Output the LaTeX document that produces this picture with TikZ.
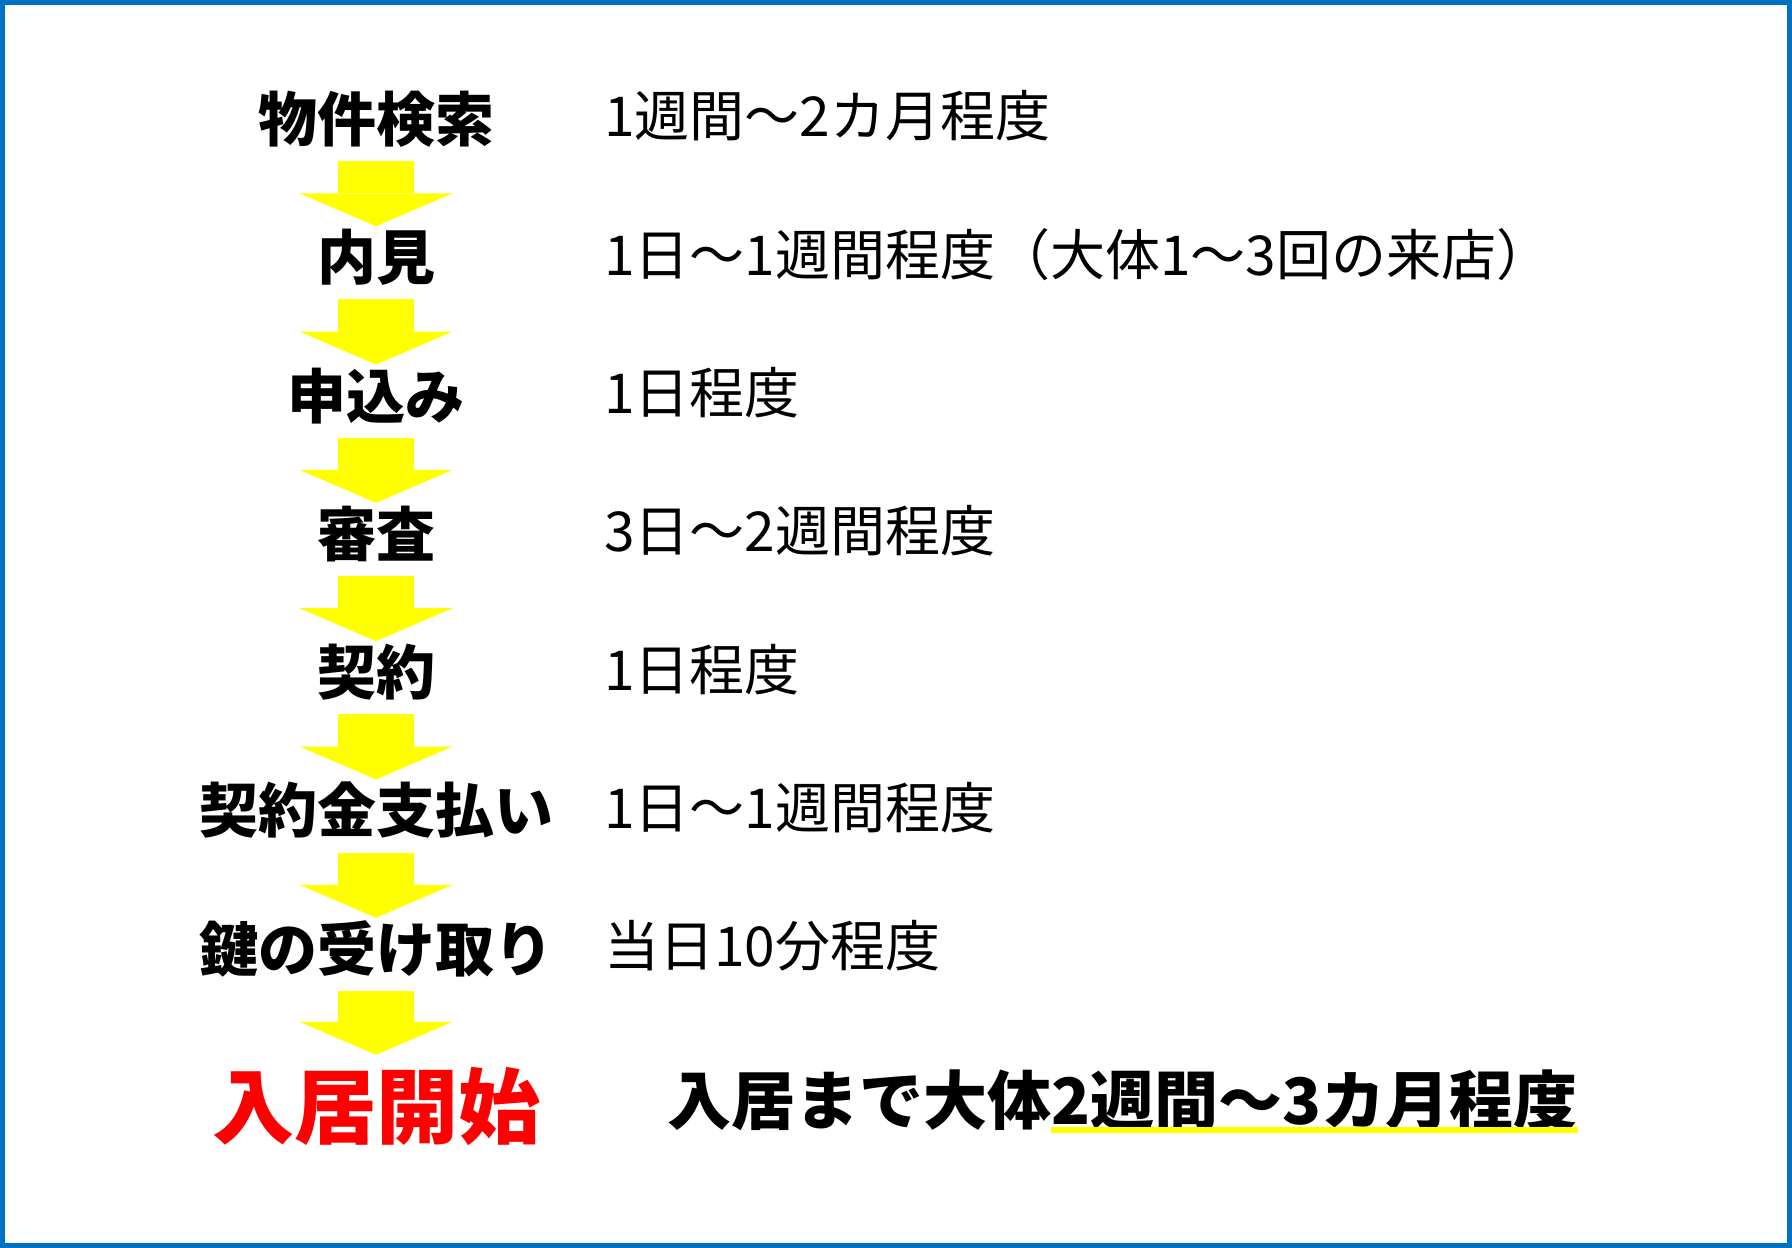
\documentclass[tikz,border=0pt]{standalone}
\usepackage{fontspec}
\setmainfont{Noto Sans CJK JP}
\usetikzlibrary{arrows.meta,positioning}
\definecolor{frameblue}{RGB}{0,112,192}
\definecolor{arrowyellow}{RGB}{255,255,0}
\definecolor{startred}{RGB}{255,0,0}

\begin{document}
\begin{tikzpicture}[x=1pt,y=-1pt,
  stage/.style = {inner sep=0pt, font=\fontsize{59}{70}\selectfont\bfseries},
  dur/.style = {inner sep=0pt, anchor=west, yshift=3pt,
  font=\fontsize{55}{66}\selectfont},
  sum/.style = {inner sep=0pt, font=\fontsize{64}{77}\selectfont\bfseries},
  flow/.style = {draw=arrowyellow, line width=76pt,
  shorten <=42pt, shorten >=31pt,
  -{Triangle[width=153pt,length=33pt,line width=0pt]}},
  node distance=138.3pt]
  \useasboundingbox (0,0) rectangle (1792,1248);
  \draw[frameblue, line width=5pt] (2.5,2.5) rectangle (1789.5,1245.5);

  \node[stage] (s1) at (376,119) {物件検索};
  \node[stage] (s2) [below of=s1] {内見};
  \node[stage] (s3) [below of=s2] {申込み};
  \node[stage] (s4) [below of=s3] {審査};
  \node[stage] (s5) [below of=s4] {契約};
  \node[stage] (s6) [below of=s5] {契約金支払い};
  \node[stage] (s7) [below of=s6] {鍵の受け取り};
  \node[stage, text=startred, font=\fontsize{82}{96}\selectfont\bfseries]
    (s8) [below of=s7, node distance=158pt] {入居開始};

  \draw[flow] (s1.center) -- (s2.center);
  \draw[flow] (s2.center) -- (s3.center);
  \draw[flow] (s3.center) -- (s4.center);
  \draw[flow] (s4.center) -- (s5.center);
  \draw[flow] (s5.center) -- (s6.center);
  \draw[flow] (s6.center) -- (s7.center);
  \draw[flow, shorten >=52pt] (s7.center) -- (s8.center);

  \node[dur] (d1) at (604,119) {1週間～2カ月程度};
  \node[dur] (d2) at (d1.west |- s2) {1日～1週間程度（大体1～3回の来店）};
  \node[dur] (d3) at (d1.west |- s3) {1日程度};
  \node[dur] (d4) at (d1.west |- s4) {3日～2週間程度};
  \node[dur] (d5) at (d1.west |- s5) {1日程度};
  \node[dur] (d6) at (d1.west |- s6) {1日～1週間程度};
  \node[dur] (d7) at (d1.west |- s7) {当日10分程度};

  % total period, the span part underlined
  \node[sum, anchor=west] (total) at (667,1100) {入居まで大体};
  \node[sum, anchor=base west] (span) at (total.base east) {2週間～3カ月程度};
  \draw[arrowyellow, line width=6pt] ([yshift=-30pt]span.west) -- ([yshift=-30pt]span.east);
\end{tikzpicture}
\end{document}
